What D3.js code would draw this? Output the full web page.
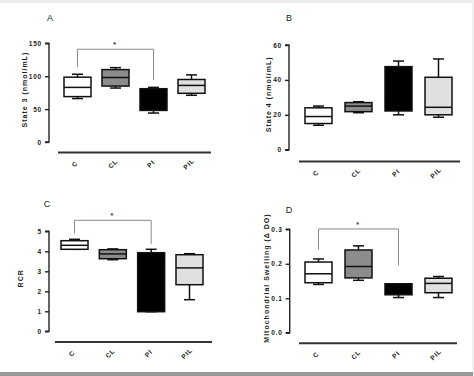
<!DOCTYPE html>
<html>
<head>
<meta charset="utf-8">
<script src="https://cdn.jsdelivr.net/npm/d3@7"></script>
<style>
  body { margin: 0; background: #fff; }
  svg { display: block; font-family: Arial, "Liberation Sans", sans-serif; }
  .tick text { font-size: 6.5px; font-weight: bold; letter-spacing: 0.8px; fill: #222; }
  .ylab { font-size: 7px; font-weight: bold; letter-spacing: 1px; fill: #222; }
  .xlab { font-size: 6.5px; font-weight: bold; letter-spacing: 0.8px; fill: #222; }
  .plabel { font-size: 9px; fill: #222; }
</style>
</head>
<body>
<script>
// groups shown on every panel
const groups = ['C', 'CL', 'PI', 'PIL'];

// box values per group: [min, q1, median, q3, max]
const state3 = [[66, 69, 83, 98.5, 103], [82, 85, 98, 110, 113], [44, 48, 72, 81, 83], [71, 74, 86, 95, 102]];
const state4 = [[14, 15, 19, 24, 25], [21.2, 21.8, 25, 27, 27.5], [20, 22.2, 30, 47.6, 50.8], [18.6, 20, 24.3, 41.5, 52]];
const rcr = [[4.1, 4.1, 4.3, 4.53, 4.6], [3.58, 3.63, 3.87, 4.08, 4.12], [0.98, 0.98, 3.5, 3.93, 4.1], [1.58, 2.33, 3.17, 3.83, 3.88]];
const swelling = [[0.14, 0.145, 0.171, 0.205, 0.214], [0.152, 0.159, 0.192, 0.24, 0.252], [0.102, 0.11, 0.12, 0.142, 0.142], [0.102, 0.116, 0.143, 0.158, 0.163]];

// y ticks
const ticks3 = [0, 50, 100, 150];
const ticks4 = [0, 20, 40, 60];
const ticksRcr = [0, 1, 2, 3, 4, 5];
const ticksSw = [0, 0.1, 0.2, 0.3];

// significance brackets (C vs PI): [bar level, left end, right end] in data units
const sig3 = [141, 114, 94];
const sigRcr = [5.55, 4.9, 4.37];
const sigSw = [0.301, 0.241, 0.195];

const fills = ['#ffffff', '#8c8c8c', '#000000', '#e0e0e0'];
const W = 474, H = 376;

const svg = d3.select('body').append('svg')
    .attr('width', W)
    .attr('height', H);

svg.append('rect').attr('width', W).attr('height', H).attr('fill', '#fff');
// frame strips from the scanned figure
svg.append('rect').attr('x', 0).attr('y', 0).attr('width', W).attr('height', 3).attr('fill', '#ececec');
svg.append('rect').attr('x', 472).attr('y', 0).attr('width', 2).attr('height', H).attr('fill', '#efefef');
svg.append('rect').attr('x', 0).attr('y', 372).attr('width', 473).attr('height', 4).attr('fill', '#9a9a9a');

const panels = [
  { letter: 'A', lx: 50, ly: 18, data: state3, ticks: ticks3, fmt: d3.format('d'), domain: [0, 150],
    ax: 49, yr: [142, 43.3], xr: [77.5, 191.5], base: 152.5, bx: [58, 211], yl: 'State 3 (nmol/mL)', ylx: 25, sig: sig3 },
  { letter: 'B', lx: 289, ly: 17.5, data: state4, ticks: ticks4, fmt: d3.format('d'), domain: [0, 60],
    ax: 289, yr: [149.7, 45], xr: [318.5, 438.5], base: 161.5, bx: [299, 460], yl: 'State 4 (nmol/mL)', ylx: 268.5, sig: null },
  { letter: 'C', lx: 47, ly: 204, data: rcr, ticks: ticksRcr, fmt: d3.format('d'), domain: [0, 5],
    ax: 49, yr: [331.3, 231.3], xr: [74.5, 189.5], base: 342, bx: [55, 212], yl: 'RCR', ylx: 20.5, sig: sigRcr },
  { letter: 'D', lx: 289, ly: 210, data: swelling, ticks: ticksSw, fmt: d3.format('.1f'), domain: [0, 0.3],
    ax: 289.7, yr: [332.7, 229.3], xr: [318.5, 438.5], base: 343.3, bx: [299, 457], yl: 'Mitochondrial Swelling (\u0394 DO)', ylx: 267, sig: sigSw }
];

const boxW = 27, capW = 11;

panels.forEach(p => {
  const y = d3.scaleLinear().domain(p.domain).range(p.yr);
  const x = d3.scalePoint().domain(groups).range(p.xr);
  const g = svg.append('g');

  // panel letter
  g.append('text').attr('class', 'plabel')
      .attr('x', p.lx).attr('y', p.ly + 3)
      .attr('text-anchor', 'middle')
      .text(p.letter);

  // y axis
  const axis = g.append('g')
      .attr('transform', `translate(${p.ax},0)`)
      .call(d3.axisLeft(y).tickValues(p.ticks).tickFormat(p.fmt).tickSize(4).tickPadding(3));
  axis.select('.domain').attr('d', `M-4,${y(p.domain[0])}H0V${y(p.domain[1])}H-4`)
      .attr('stroke', '#222').attr('stroke-width', 1.4);
  axis.selectAll('.tick line').attr('stroke', '#222').attr('stroke-width', 1.4);

  // y label
  const mid = (p.yr[0] + p.yr[1]) / 2 - 3;
  g.append('text').attr('class', 'ylab')
      .attr('transform', `translate(${p.ylx},${mid}) rotate(-90)`)
      .attr('text-anchor', 'middle')
      .attr('dy', '0.35em')
      .text(p.yl);

  // bottom line
  g.append('line')
      .attr('x1', p.bx[0]).attr('x2', p.bx[1])
      .attr('y1', p.base).attr('y2', p.base)
      .attr('stroke', '#333').attr('stroke-width', 2);

  // x labels
  g.selectAll('.xlab').data(groups).join('text')
      .attr('class', 'xlab')
      .attr('transform', d => `translate(${x(d) - 1},${p.base + 13}) rotate(-45)`)
      .attr('text-anchor', 'middle')
      .text(d => d);

  // boxes
  const boxes = g.selectAll('.box').data(p.data).join('g').attr('class', 'box');
  boxes.each(function(d, i) {
    const b = d3.select(this);
    const cx = x(groups[i]);
    const stroke = '#111';
    // whiskers
    b.append('line').attr('x1', cx).attr('x2', cx).attr('y1', y(d[0])).attr('y2', y(d[4]))
        .attr('stroke', stroke).attr('stroke-width', 1.5);
    [d[0], d[4]].forEach(v => {
      b.append('line').attr('x1', cx - capW / 2).attr('x2', cx + capW / 2)
          .attr('y1', y(v)).attr('y2', y(v))
          .attr('stroke', stroke).attr('stroke-width', 1.5);
    });
    b.append('rect')
        .attr('x', cx - boxW / 2).attr('width', boxW)
        .attr('y', y(d[3])).attr('height', Math.max(0.5, y(d[1]) - y(d[3])))
        .attr('fill', fills[i]).attr('stroke', stroke).attr('stroke-width', 1.5);
    // median line (hidden on the black box, as in the figure)
    b.append('line').attr('x1', cx - boxW / 2).attr('x2', cx + boxW / 2)
        .attr('y1', y(d[2])).attr('y2', y(d[2]))
        .attr('stroke', fills[i] === '#000000' ? '#000' : stroke).attr('stroke-width', 1.5);
  });

  // significance bracket between C and PI
  if (p.sig) {
    const x1 = x('C'), x2 = x('PI');
    g.append('path')
        .attr('d', `M${x1},${y(p.sig[1])}V${y(p.sig[0])}H${x2}V${y(p.sig[2])}`)
        .attr('fill', 'none').attr('stroke', '#8a8a8a').attr('stroke-width', 1);
    g.append('text')
        .attr('x', (x1 + x2) / 2 - 1).attr('y', y(p.sig[0]) - 2)
        .attr('text-anchor', 'middle')
        .attr('font-size', 7).attr('font-weight', 'bold').attr('fill', '#333')
        .text('*');
  }
});
</script>
</body>
</html>
